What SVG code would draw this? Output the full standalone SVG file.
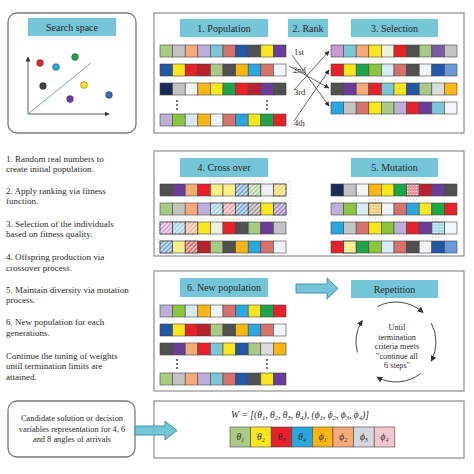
<svg xmlns="http://www.w3.org/2000/svg" width="474" height="474" viewBox="0 0 474 474">
<style>
text{font-family:"Liberation Serif","DejaVu Serif",serif;fill:#2a2a2a}
.title{fill:#74c5d8}
.tt{font-size:10px;text-anchor:middle}
.panel{fill:#fff;stroke:#8e8e8e;stroke-width:1.2}
.box{fill:#fff;stroke:#7a7a7a;stroke-width:1.3}
.cells rect{stroke:#444;stroke-width:0.6}
.note{font-size:9px}
.lbl{font-size:8.5px}
.conn{stroke:#444;stroke-width:0.8;fill:none}
.cyc{stroke:#333;stroke-width:0.9;fill:none;marker-end:url(#ah)}
.blk{fill:#74c5d8;stroke:#3b8aa0;stroke-width:0.9}
.dotline{stroke:#b8b8b8;stroke-width:0.8;stroke-dasharray:1 2;fill:none}
.mdot{stroke:#e39a9a;stroke-width:0.8;stroke-dasharray:1 2;fill:none}
.gl{fill:#a9c985}.lg{fill:#c3c3c3}.pe{fill:#f5ab78}.la{fill:#bdb0d8}.lb{fill:#7cc6d8}
.sa{fill:#d5726b}.bl{fill:#2158a5}.dg{fill:#505050}.ye{fill:#f8e71c}.pu{fill:#6b3d98}
.re{fill:#e62129}.dr{fill:#b8202d}.or{fill:#fbb515}.sb{fill:#29a8e0}.wh{fill:#f2f5f8}
.nv{fill:#1d2957}.gr{fill:#1ca54b}.gm{fill:#8cc63f}.pb{fill:#d6ebf6}.cr{fill:#eef0dc}
.oc{fill:#c79bcf}.cf{fill:#6b98d6}.ly{fill:#faee8a}.pu2{fill:#7a5aa6}.lg2{fill:#dcdcdc}
.ht{fill:url(#hatch)}.dt{fill:url(#dots)}
.ci{font-size:9.5px;font-style:italic;text-anchor:middle}
</style>
<defs>
<pattern id="hatch" patternUnits="userSpaceOnUse" width="3.2" height="3.2" patternTransform="rotate(45)">
<rect x="0" y="0" width="1.6" height="3.2" fill="#fff" fill-opacity="0.6"/>
</pattern>
<pattern id="dots" patternUnits="userSpaceOnUse" width="3" height="3">
<circle cx="1.5" cy="1.5" r="0.8" fill="#fff" fill-opacity="0.75"/>
</pattern>
<marker id="ah" markerUnits="userSpaceOnUse" markerWidth="6" markerHeight="6" refX="5" refY="3" orient="auto">
<path d="M0,0 L6,3 L0,6 z" fill="#333"/>
</marker>
<marker id="ax" markerUnits="userSpaceOnUse" markerWidth="5" markerHeight="5" refX="4.5" refY="2.5" orient="auto">
<path d="M0,0 L5,2.5 L0,5 z" fill="#333"/>
</marker>
</defs>
<rect width="474" height="474" fill="#fff"/>

<!-- Search space -->
<g id="search-space">
<rect class="box" x="8" y="13" width="128" height="120" rx="9"/>
<rect class="title" x="28" y="18" width="88" height="18"/>
<text class="tt" x="72" y="31">Search space</text>
<line x1="28" y1="114" x2="28" y2="57" stroke="#333" stroke-width="0.8" marker-end="url(#ax)"/>
<line x1="28" y1="114" x2="109" y2="114" stroke="#333" stroke-width="0.8" marker-end="url(#ax)"/>
<line x1="28" y1="114" x2="91" y2="63" stroke="#3aa37a" stroke-width="0.8"/>
<g stroke="#333" stroke-width="0.4">
<circle cx="40" cy="63" r="3.4" fill="#e62129"/>
<circle cx="56" cy="67" r="3.4" fill="#29a8e0"/>
<circle cx="75" cy="57" r="3.4" fill="#1ca54b"/>
<circle cx="43" cy="86" r="3.4" fill="#404040"/>
<circle cx="84" cy="85" r="3.4" fill="#f8e71c"/>
<circle cx="70" cy="99" r="3.4" fill="#6b3d98"/>
<circle cx="109" cy="95" r="3.4" fill="#2f6db5"/>
</g>
</g>

<!-- Left notes -->
<g id="notes" class="note">
<text x="6" y="162">1. Random real numbers to</text>
<text x="6" y="172">create initial population.</text>
<text x="6" y="194">2. Apply ranking via fitness</text>
<text x="6" y="204">function.</text>
<text x="6" y="227">3. Selection of the individuals</text>
<text x="6" y="237">based on fitness quality.</text>
<text x="6" y="260">4. Offspring production via</text>
<text x="6" y="271">crossover process.</text>
<text x="6" y="293">5. Maintain diversity via mutation</text>
<text x="6" y="303">process.</text>
<text x="6" y="325">6. New population for each</text>
<text x="6" y="336">generations.</text>
<text x="6" y="359">Continue the tuning of weights</text>
<text x="6" y="369">until termination limits are</text>
<text x="6" y="380">attained.</text>
</g>

<!-- Panel 1: population / rank / selection -->
<g id="panel-selection">
<rect class="panel" x="154" y="13" width="310" height="120"/>
<rect class="title" x="180" y="19" width="88" height="18"/>
<text class="tt" x="224" y="32">1. Population</text>
<rect class="title" x="288" y="19" width="40" height="18"/>
<text class="tt" x="308" y="32">2. Rank</text>
<rect class="title" x="351" y="19" width="87" height="18"/>
<text class="tt" x="394.5" y="32">3. Selection</text>
<g class="lbl">
<text x="294" y="55">1st</text>
<text x="293" y="73">2nd</text>
<text x="294" y="95">3rd</text>
<text x="294" y="126">4th</text>
</g>
<g class="cells">
<g transform="translate(160,45)"><rect x="0" width="12.6" height="12" class="gl"/><rect x="12.6" width="12.6" height="12" class="lg"/><rect x="25.2" width="12.6" height="12" class="pe"/><rect x="37.8" width="12.6" height="12" class="la"/><rect x="50.4" width="12.6" height="12" class="lb"/><rect x="63" width="12.6" height="12" class="sa"/><rect x="75.6" width="12.6" height="12" class="bl"/><rect x="88.2" width="12.6" height="12" class="dg"/><rect x="100.8" width="12.6" height="12" class="ye"/><rect x="113.4" width="12.6" height="12" class="pu"/></g>
<g transform="translate(160,64)"><rect x="0" width="12.6" height="12" class="bl"/><rect x="12.6" width="12.6" height="12" class="ye"/><rect x="25.2" width="12.6" height="12" class="re"/><rect x="37.8" width="12.6" height="12" class="dr"/><rect x="50.4" width="12.6" height="12" class="gl"/><rect x="63" width="12.6" height="12" class="dg"/><rect x="75.6" width="12.6" height="12" class="or"/><rect x="88.2" width="12.6" height="12" class="sb"/><rect x="100.8" width="12.6" height="12" class="sa"/><rect x="113.4" width="12.6" height="12" class="wh"/></g>
<g transform="translate(160,83)"><rect x="0" width="12.6" height="12" class="nv"/><rect x="12.6" width="12.6" height="12" class="lg"/><rect x="25.2" width="12.6" height="12" class="wh"/><rect x="37.8" width="12.6" height="12" class="or"/><rect x="50.4" width="12.6" height="12" class="ye"/><rect x="63" width="12.6" height="12" class="gr"/><rect x="75.6" width="12.6" height="12" class="re"/><rect x="88.2" width="12.6" height="12" class="dr"/><rect x="100.8" width="12.6" height="12" class="pu"/><rect x="113.4" width="12.6" height="12" class="dg"/></g>
<g transform="translate(160,114)"><rect x="0" width="12.6" height="12" class="la"/><rect x="12.6" width="12.6" height="12" class="gm"/><rect x="25.2" width="12.6" height="12" class="pb"/><rect x="37.8" width="12.6" height="12" class="or"/><rect x="50.4" width="12.6" height="12" class="wh"/><rect x="63" width="12.6" height="12" class="sa"/><rect x="75.6" width="12.6" height="12" class="sb"/><rect x="88.2" width="12.6" height="12" class="ye"/><rect x="100.8" width="12.6" height="12" class="gr"/><rect x="113.4" width="12.6" height="12" class="re"/></g>
<g transform="translate(331,45)"><rect x="0" width="12.6" height="12" class="oc"/><rect x="12.6" width="12.6" height="12" class="lb"/><rect x="25.2" width="12.6" height="12" class="pe"/><rect x="37.8" width="12.6" height="12" class="ye"/><rect x="50.4" width="12.6" height="12" class="cr"/><rect x="63" width="12.6" height="12" class="re"/><rect x="75.6" width="12.6" height="12" class="dg"/><rect x="88.2" width="12.6" height="12" class="gl"/><rect x="100.8" width="12.6" height="12" class="pu2"/><rect x="113.4" width="12.6" height="12" class="lg"/></g>
<g transform="translate(331,64)"><rect x="0" width="12.6" height="12" class="re"/><rect x="12.6" width="12.6" height="12" class="ye"/><rect x="25.2" width="12.6" height="12" class="gr"/><rect x="37.8" width="12.6" height="12" class="gm"/><rect x="50.4" width="12.6" height="12" class="pb"/><rect x="63" width="12.6" height="12" class="sa"/><rect x="75.6" width="12.6" height="12" class="dg"/><rect x="88.2" width="12.6" height="12" class="wh"/><rect x="100.8" width="12.6" height="12" class="bl"/><rect x="113.4" width="12.6" height="12" class="cf"/></g>
<g transform="translate(331,83)"><rect x="0" width="12.6" height="12" class="dg"/><rect x="12.6" width="12.6" height="12" class="pu"/><rect x="25.2" width="12.6" height="12" class="pe"/><rect x="37.8" width="12.6" height="12" class="re"/><rect x="50.4" width="12.6" height="12" class="lb"/><rect x="63" width="12.6" height="12" class="ye"/><rect x="75.6" width="12.6" height="12" class="bl"/><rect x="88.2" width="12.6" height="12" class="gl"/><rect x="100.8" width="12.6" height="12" class="lg2"/><rect x="113.4" width="12.6" height="12" class="or"/></g>
<g transform="translate(331,102)"><rect x="0" width="12.6" height="12" class="sb"/><rect x="12.6" width="12.6" height="12" class="lg"/><rect x="25.2" width="12.6" height="12" class="sa"/><rect x="37.8" width="12.6" height="12" class="ye"/><rect x="50.4" width="12.6" height="12" class="gl"/><rect x="63" width="12.6" height="12" class="la"/><rect x="75.6" width="12.6" height="12" class="re"/><rect x="88.2" width="12.6" height="12" class="pu"/><rect x="100.8" width="12.6" height="12" class="lb"/><rect x="113.4" width="12.6" height="12" class="wh"/></g>
</g>
<g fill="#333"><circle cx="177" cy="101" r="0.9"/><circle cx="177" cy="105" r="0.9"/><circle cx="177" cy="109" r="0.9"/><circle cx="267" cy="101" r="0.9"/><circle cx="267" cy="105" r="0.9"/><circle cx="267" cy="109" r="0.9"/></g>
</g>

<!-- Panel 2: crossover / mutation -->
<g id="panel-variation">
<rect class="panel" x="154" y="151" width="310" height="105"/>
<rect class="title" x="180" y="158" width="88" height="19"/>
<text class="tt" x="224" y="171">4. Cross over</text>
<rect class="title" x="351" y="158" width="87" height="19"/>
<text class="tt" x="394.5" y="171">5. Mutation</text>
<path class="dotline" d="M210,181 H290 V219 H158 V256 M210,181 V200"/>
<g class="cells">
<g transform="translate(160,184)"><rect x="0" width="12.6" height="12" class="dg"/><rect x="12.6" width="12.6" height="12" class="pu"/><rect x="25.2" width="12.6" height="12" class="pe"/><rect x="37.8" width="12.6" height="12" class="re"/><rect x="50.4" width="12.6" height="12" class="ly"/><rect x="63" width="12.6" height="12" class="ly"/><rect x="75.6" width="12.6" height="12" fill="#7ea6dc"/><rect x="88.2" width="12.6" height="12" fill="#b5d39a"/><rect x="100.8" width="12.6" height="12" fill="#eeeef4"/><rect x="113.4" width="12.6" height="12" fill="#f6d96a"/><rect x="75.6" width="12.6" height="12" class="ht"/><rect x="88.2" width="12.6" height="12" class="ht"/><rect x="113.4" width="12.6" height="12" class="ht"/></g>
<g transform="translate(160,203)"><rect x="0" width="12.6" height="12" class="gl"/><rect x="12.6" width="12.6" height="12" class="lg"/><rect x="25.2" width="12.6" height="12" class="pe"/><rect x="37.8" width="12.6" height="12" class="la"/><rect x="50.4" width="12.6" height="12" fill="#9fd3ea"/><rect x="63" width="12.6" height="12" fill="#eea0a8"/><rect x="75.6" width="12.6" height="12" fill="#7ea6dc"/><rect x="88.2" width="12.6" height="12" fill="#a0a0a0"/><rect x="100.8" width="12.6" height="12" class="ye"/><rect x="113.4" width="12.6" height="12" fill="#a58ad0"/><rect x="50.4" width="12.6" height="12" class="ht"/><rect x="63" width="12.6" height="12" class="ht"/><rect x="75.6" width="12.6" height="12" class="ht"/><rect x="88.2" width="12.6" height="12" class="ht"/><rect x="113.4" width="12.6" height="12" class="ht"/></g>
<g transform="translate(160,222)"><rect x="0" width="12.6" height="12" fill="#d8a6d6"/><rect x="12.6" width="12.6" height="12" fill="#9fd3ea"/><rect x="25.2" width="12.6" height="12" fill="#f5b799"/><rect x="37.8" width="12.6" height="12" class="ye"/><rect x="50.4" width="12.6" height="12" class="cr"/><rect x="63" width="12.6" height="12" class="re"/><rect x="75.6" width="12.6" height="12" class="dg"/><rect x="88.2" width="12.6" height="12" class="gl"/><rect x="100.8" width="12.6" height="12" class="pu"/><rect x="113.4" width="12.6" height="12" class="lg"/><rect x="0" width="12.6" height="12" class="ht"/><rect x="12.6" width="12.6" height="12" class="ht"/><rect x="25.2" width="12.6" height="12" class="ht"/></g>
<g transform="translate(160,241)"><rect x="0" width="12.6" height="12" fill="#7ea6dc"/><rect x="12.6" width="12.6" height="12" class="ly"/><rect x="25.2" width="12.6" height="12" fill="#e76a6a"/><rect x="37.8" width="12.6" height="12" class="dr"/><rect x="50.4" width="12.6" height="12" class="gl"/><rect x="63" width="12.6" height="12" class="dg"/><rect x="75.6" width="12.6" height="12" class="or"/><rect x="88.2" width="12.6" height="12" class="sb"/><rect x="100.8" width="12.6" height="12" class="sa"/><rect x="113.4" width="12.6" height="12" class="wh"/><rect x="0" width="12.6" height="12" class="ht"/><rect x="25.2" width="12.6" height="12" class="ht"/></g>
<g transform="translate(331,184)"><rect x="0" width="12.6" height="12" class="nv"/><rect x="12.6" width="12.6" height="12" class="lg"/><rect x="25.2" width="12.6" height="12" class="wh"/><rect x="37.8" width="12.6" height="12" class="or"/><rect x="50.4" width="12.6" height="12" class="ye"/><rect x="63" width="12.6" height="12" class="gr"/><rect x="75.6" width="12.6" height="12" fill="#ee8c98"/><rect x="88.2" width="12.6" height="12" class="dr"/><rect x="100.8" width="12.6" height="12" class="pu"/><rect x="113.4" width="12.6" height="12" class="dg"/><rect x="75.6" width="12.6" height="12" class="dt"/></g>
<g transform="translate(331,203)"><rect x="0" width="12.6" height="12" class="la"/><rect x="12.6" width="12.6" height="12" class="gm"/><rect x="25.2" width="12.6" height="12" class="pb"/><rect x="37.8" width="12.6" height="12" fill="#f9cc7c"/><rect x="50.4" width="12.6" height="12" class="wh"/><rect x="63" width="12.6" height="12" class="sa"/><rect x="75.6" width="12.6" height="12" class="sb"/><rect x="88.2" width="12.6" height="12" class="ye"/><rect x="100.8" width="12.6" height="12" class="gr"/><rect x="113.4" width="12.6" height="12" class="re"/><rect x="37.8" width="12.6" height="12" class="dt"/></g>
<g transform="translate(331,222)"><rect x="0" width="12.6" height="12" class="sb"/><rect x="12.6" width="12.6" height="12" class="lg"/><rect x="25.2" width="12.6" height="12" class="sa"/><rect x="37.8" width="12.6" height="12" class="ye"/><rect x="50.4" width="12.6" height="12" class="gm"/><rect x="63" width="12.6" height="12" class="la"/><rect x="75.6" width="12.6" height="12" class="re"/><rect x="88.2" width="12.6" height="12" class="pu"/><rect x="100.8" width="12.6" height="12" fill="#a9d8ee"/><rect x="113.4" width="12.6" height="12" class="wh"/><rect x="100.8" width="12.6" height="12" class="dt"/></g>
<g transform="translate(331,241)"><rect x="0" width="12.6" height="12" class="re"/><rect x="12.6" width="12.6" height="12" fill="#f6ea80"/><rect x="25.2" width="12.6" height="12" class="gr"/><rect x="37.8" width="12.6" height="12" class="gm"/><rect x="50.4" width="12.6" height="12" class="pb"/><rect x="63" width="12.6" height="12" class="sa"/><rect x="75.6" width="12.6" height="12" class="dg"/><rect x="88.2" width="12.6" height="12" class="wh"/><rect x="100.8" width="12.6" height="12" class="bl"/><rect x="113.4" width="12.6" height="12" class="cf"/><rect x="12.6" width="12.6" height="12" class="dt"/></g>
</g>
<path class="mdot" d="M407,181 H418 M407,199 H418 M369,200 H380 M369,218 H380 M432,219 H443 M432,237 H443 M344,238 H355 M344,256 H355"/>
</g>

<!-- Panel 3: new population / repetition -->
<g id="panel-repetition">
<rect class="panel" x="154" y="271" width="310" height="120"/>
<rect class="title" x="180" y="278" width="88" height="19"/>
<text class="tt" x="224" y="291">6. New population</text>
<rect class="title" x="351" y="280" width="87" height="18"/>
<text class="tt" x="394.5" y="292.5">Repetition</text>
<g class="cells">
<g transform="translate(160,305)"><rect x="0" width="12.6" height="12" class="la"/><rect x="12.6" width="12.6" height="12" class="gm"/><rect x="25.2" width="12.6" height="12" class="pb"/><rect x="37.8" width="12.6" height="12" class="or"/><rect x="50.4" width="12.6" height="12" class="wh"/><rect x="63" width="12.6" height="12" class="sa"/><rect x="75.6" width="12.6" height="12" class="sb"/><rect x="88.2" width="12.6" height="12" class="ye"/><rect x="100.8" width="12.6" height="12" class="gr"/><rect x="113.4" width="12.6" height="12" class="re"/></g>
<g transform="translate(160,324)"><rect x="0" width="12.6" height="12" class="bl"/><rect x="12.6" width="12.6" height="12" class="ye"/><rect x="25.2" width="12.6" height="12" class="re"/><rect x="37.8" width="12.6" height="12" class="dr"/><rect x="50.4" width="12.6" height="12" class="gl"/><rect x="63" width="12.6" height="12" class="dg"/><rect x="75.6" width="12.6" height="12" class="or"/><rect x="88.2" width="12.6" height="12" class="sb"/><rect x="100.8" width="12.6" height="12" class="sa"/><rect x="113.4" width="12.6" height="12" class="wh"/></g>
<g transform="translate(160,343)"><rect x="0" width="12.6" height="12" class="dg"/><rect x="12.6" width="12.6" height="12" class="pu"/><rect x="25.2" width="12.6" height="12" class="pe"/><rect x="37.8" width="12.6" height="12" class="re"/><rect x="50.4" width="12.6" height="12" class="lb"/><rect x="63" width="12.6" height="12" class="ye"/><rect x="75.6" width="12.6" height="12" class="bl"/><rect x="88.2" width="12.6" height="12" class="gl"/><rect x="100.8" width="12.6" height="12" class="lg2"/><rect x="113.4" width="12.6" height="12" class="or"/></g>
<g transform="translate(160,373)"><rect x="0" width="12.6" height="12" class="gl"/><rect x="12.6" width="12.6" height="12" class="lg"/><rect x="25.2" width="12.6" height="12" class="pe"/><rect x="37.8" width="12.6" height="12" class="la"/><rect x="50.4" width="12.6" height="12" class="lb"/><rect x="63" width="12.6" height="12" class="sa"/><rect x="75.6" width="12.6" height="12" class="bl"/><rect x="88.2" width="12.6" height="12" class="dg"/><rect x="100.8" width="12.6" height="12" class="ye"/><rect x="113.4" width="12.6" height="12" class="pu"/></g>
</g>
<g fill="#333"><circle cx="177" cy="360" r="0.9"/><circle cx="177" cy="364" r="0.9"/><circle cx="177" cy="368" r="0.9"/><circle cx="267" cy="360" r="0.9"/><circle cx="267" cy="364" r="0.9"/><circle cx="267" cy="368" r="0.9"/></g>
<g font-size="8.2" text-anchor="middle">
<text x="397" y="330">Until</text>
<text x="397" y="339.5">termination</text>
<text x="397" y="349">criteria meets</text>
<text x="397" y="358.5">"continue all</text>
<text x="397" y="368">6 steps"</text>
</g>
</g>

<!-- Candidate solution -->
<g id="candidate">
<rect class="box" x="8" y="401" width="127" height="56" rx="9"/>
<g font-size="8.4" text-anchor="middle">
<text x="72" y="421">Candidate solution or decision</text>
<text x="72" y="432">variables representation for 4, 6</text>
<text x="72" y="442">and 8 angles of arrivals</text>
</g>
</g>

<!-- Representation panel -->
<g id="representation">
<rect class="panel" x="154" y="401" width="310" height="57"/>
<text x="300" y="418" font-size="9.6" font-style="italic" text-anchor="middle">W = [(θ<tspan font-size="6.5" dy="2">1</tspan><tspan dy="-2">, θ</tspan><tspan font-size="6.5" dy="2">2</tspan><tspan dy="-2">, θ</tspan><tspan font-size="6.5" dy="2">3</tspan><tspan dy="-2">, θ</tspan><tspan font-size="6.5" dy="2">4</tspan><tspan dy="-2">), (ϕ</tspan><tspan font-size="6.5" dy="2">1</tspan><tspan dy="-2">, ϕ</tspan><tspan font-size="6.5" dy="2">2</tspan><tspan dy="-2">, ϕ</tspan><tspan font-size="6.5" dy="2">3</tspan><tspan dy="-2">, ϕ</tspan><tspan font-size="6.5" dy="2">4</tspan><tspan dy="-2">)]</tspan></text>
<g class="cells">
<rect x="230" y="427" width="20.6" height="20" class="gl"/>
<rect x="250.6" y="427" width="20.6" height="20" class="ye"/>
<rect x="271.2" y="427" width="20.6" height="20" class="re"/>
<rect x="291.8" y="427" width="20.6" height="20" class="sb"/>
<rect x="312.4" y="427" width="20.6" height="20" class="or"/>
<rect x="333" y="427" width="20.6" height="20" class="pe"/>
<rect x="353.6" y="427" width="20.6" height="20" fill="#d6d6de"/>
<rect x="374.2" y="427" width="20.6" height="20" fill="#f2c8d0"/>
</g>
<g class="ci">
<text x="240.3" y="440">θ<tspan font-size="6" dy="2">1</tspan></text>
<text x="260.9" y="440">θ<tspan font-size="6" dy="2">2</tspan></text>
<text x="281.5" y="440">θ<tspan font-size="6" dy="2">3</tspan></text>
<text x="302.1" y="440">θ<tspan font-size="6" dy="2">4</tspan></text>
<text x="322.7" y="440">ϕ<tspan font-size="6" dy="2">1</tspan></text>
<text x="343.3" y="440">ϕ<tspan font-size="6" dy="2">2</tspan></text>
<text x="363.9" y="440">ϕ<tspan font-size="6" dy="2">3</tspan></text>
<text x="384.5" y="440">ϕ<tspan font-size="6" dy="2">4</tspan></text>
</g>
</g>

<!-- Connectors -->
<g id="connectors">
<line class="conn" x1="292" y1="55" x2="329" y2="106" marker-end="url(#ax)"/>
<line class="conn" x1="289" y1="66" x2="329" y2="88" marker-end="url(#ax)"/>
<line class="conn" x1="294" y1="90" x2="329" y2="51" marker-end="url(#ax)"/>
<line class="conn" x1="294" y1="121" x2="329" y2="70" marker-end="url(#ax)"/>
<path class="cyc" d="M377.2,306.7 A40,40 0 0 1 422.8,312.3"/>
<path class="cyc" d="M431.3,323.2 A40,40 0 0 1 431.3,360.8"/>
<path class="cyc" d="M420.6,373.5 A40,40 0 0 1 377.2,377.3"/>
<path class="cyc" d="M357.4,352.4 A40,40 0 0 1 362.1,320.8"/>
<path class="blk" d="M296,284 H327 V278 L338,288.5 L327,299 V293 H296 Z"/>
<path class="blk" d="M135,426 H165 V421 L177,430.5 L165,440 V435 H135 Z"/>
</g>
</svg>
